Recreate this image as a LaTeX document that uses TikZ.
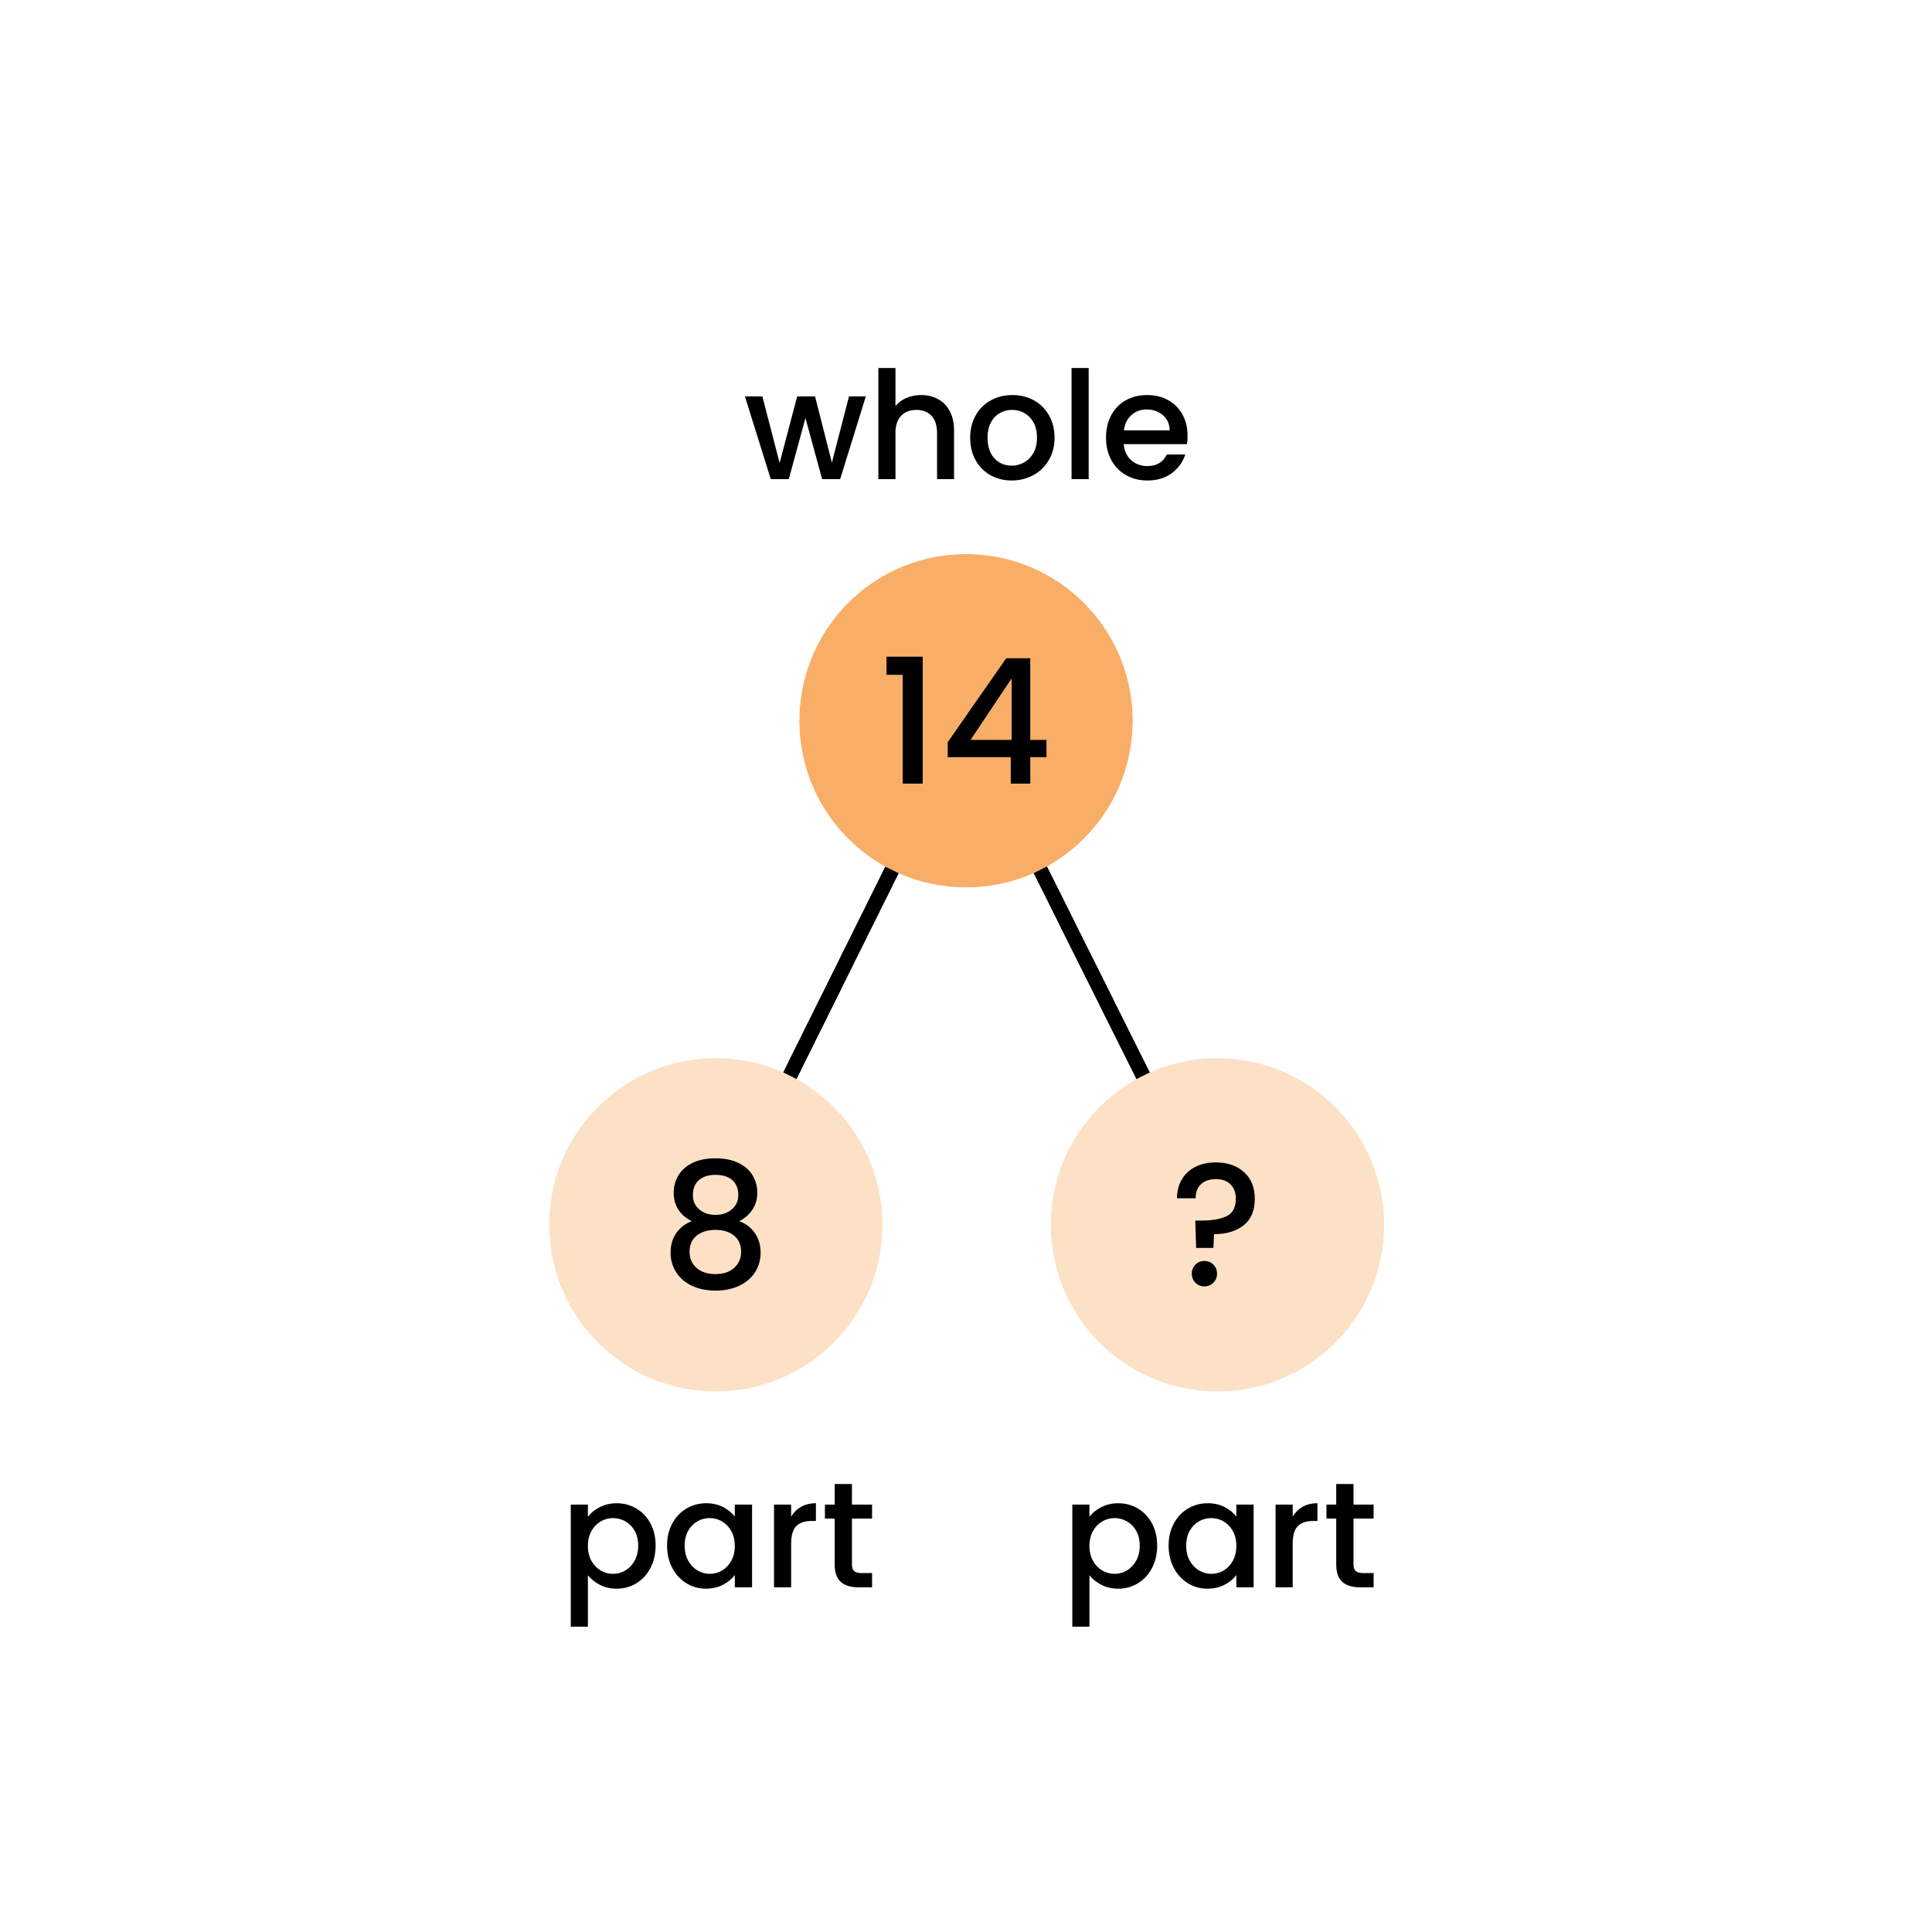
\documentclass[tikz,border=0pt]{standalone}
\usepackage{fontspec}
\setmainfont{Poppins Medium}
\definecolor{wholeorange}{HTML}{F9AE68}
\definecolor{partpeach}{HTML}{FDE1C6}
\begin{document}
\begin{tikzpicture}[
	bond/.style={line width=0.12cm},
	ball/.style={circle,inner sep=0pt,outer sep=0pt,minimum size=2.69cm,font=\fontsize{40}{40}\selectfont},
	tag/.style={anchor=base,inner sep=0pt,font=\fontsize{34.5}{34.5}\selectfont}]
	\useasboundingbox (0,0) rectangle (15.6,15.6);
	\node[tag] (wholelabel) at (7.82,11.73) {whole};
	\node[ball,fill=wholeorange] (whole) at (7.80,9.78) {14};
	\node[ball,fill=partpeach] (partA) at (5.78,5.71) {8};
	\node[ball,fill=partpeach] (partB) at (9.83,5.71) {?};
	\draw[bond] (whole) -- (partA);
	\draw[bond] (whole) -- (partB);
	\node[tag] (partAlabel) at (5.80,2.78) {part};
	\node[tag] (partBlabel) at (9.85,2.78) {part};
\end{tikzpicture}
\end{document}
